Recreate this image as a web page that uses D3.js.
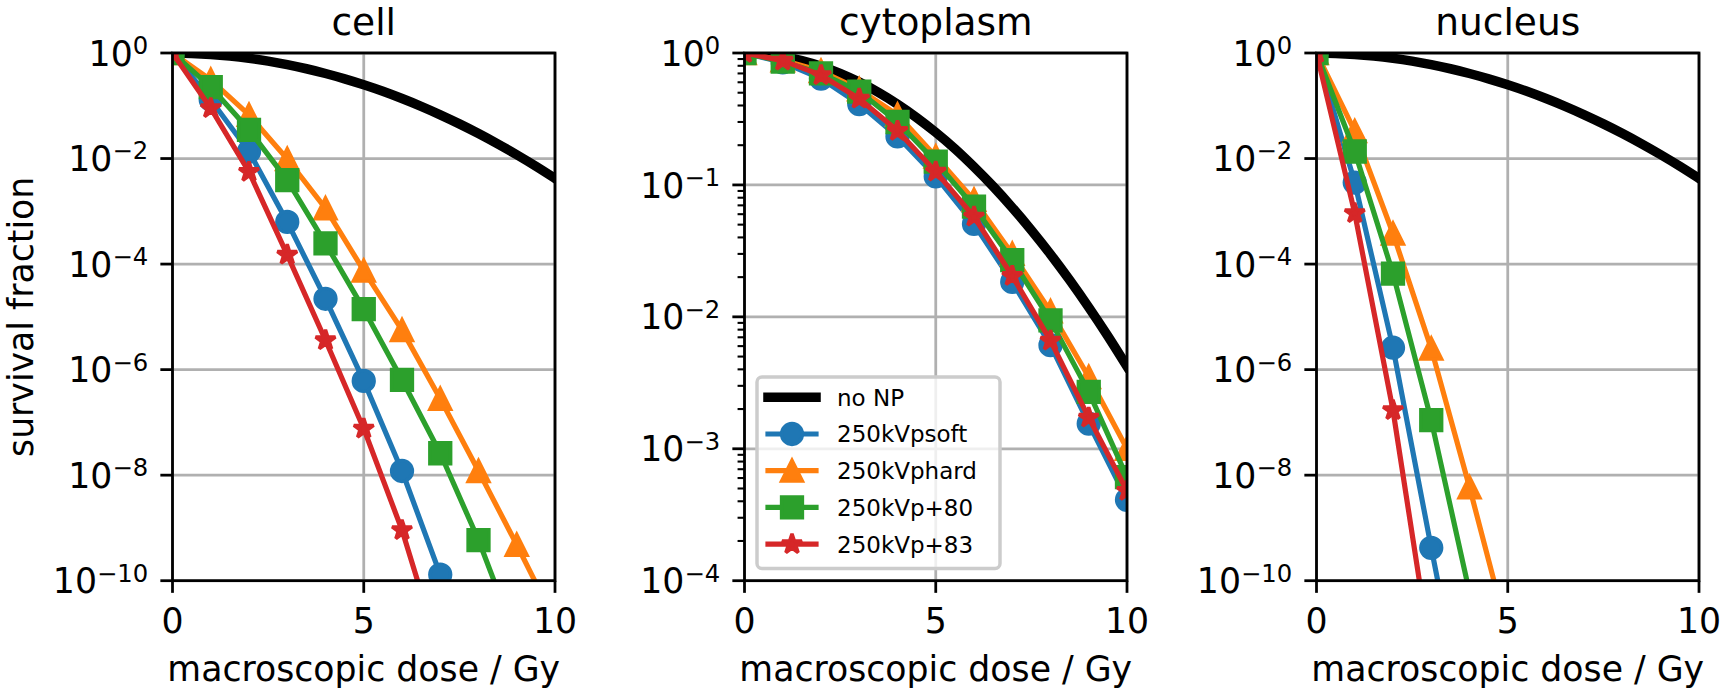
<!DOCTYPE html>
<html>
<head>
<meta charset="utf-8">
<script src="https://cdn.jsdelivr.net/npm/d3@7"></script>
<style>
  html, body { margin: 0; padding: 0; background: #ffffff; }
  svg { display: block; }
  text { font-family: "DejaVu Sans", sans-serif; fill: #000; }
</style>
</head>
<body>
<script>
// ---------------- DATA ----------------
const doses = [0, 1, 2, 3, 4, 5, 6, 7, 8, 9, 10];
const seriesNames = ["250kVpsoft", "250kVphard", "250kVp+80", "250kVp+83"];
const seriesColors = ["#1f77b4", "#ff7f0e", "#2ca02c", "#d62728"];
const seriesMarkers = ["circle", "triangle", "square", "star"];
const panelTitles = ["cell", "cytoplasm", "nucleus"];

// cell
const cellSoft = [1, 0.13, 0.0136, 6.3e-4, 2.2e-5, 6.1e-7, 1.2e-8, 1.3e-10, 1.2e-12, null, null];
const cellHard = [1, 0.31, 0.067, 0.0098, 1.14e-3, 7.5e-5, 5.6e-6, 2.8e-7, 1.2e-8, 4.8e-10, 1.7e-11];
const cell80   = [1, 0.226, 0.035, 0.0039, 2.46e-4, 1.4e-5, 6.4e-7, 2.6e-8, 5.9e-10, 7.4e-12, null];
const cell83   = [1, 0.09, 0.0056, 1.5e-4, 3.6e-6, 7.6e-8, 9.1e-10, 4e-12, null, null, null];
// cytoplasm
const cytoSoft = [1, 0.85, 0.64, 0.41, 0.233, 0.116, 0.0506, 0.0184, 6.1e-3, 1.55e-3, 4.1e-4];
const cytoHard = [1, 0.88, 0.73, 0.53, 0.34, 0.164, 0.077, 0.030, 0.011, 3.5e-3, 1.0e-3];
const cyto80   = [1, 0.86, 0.70, 0.51, 0.30, 0.150, 0.0684, 0.0269, 9.4e-3, 2.7e-3, 6.1e-4];
const cyto83   = [1, 0.875, 0.68, 0.45, 0.257, 0.126, 0.0574, 0.0204, 6.6e-3, 1.72e-3, 4.8e-4];
// nucleus
const nucSoft = [1, 3.5e-3, 2.6e-6, 4.2e-10, 9e-14, null, null, null, null, null, null];
const nucHard = [1, 0.033, 3.8e-4, 2.5e-6, 5.9e-9, 1e-11, null, null, null, null, null];
const nuc80   = [1, 0.0136, 6.6e-5, 1.1e-7, 6e-11, 1e-13, null, null, null, null, null];
const nuc83   = [1, 9.2e-4, 1.7e-7, 3.5e-12, null, null, null, null, null, null, null];

// reference curve without nanoparticles (same in all panels)
const noNPDose = [0, 0.5, 1, 1.5, 2, 2.5, 3, 3.5, 4, 4.5, 5, 5.5, 6, 6.5, 7, 7.5, 8, 8.5, 9, 9.5, 10];
const noNP = [1, 0.983, 0.941, 0.876, 0.794, 0.701, 0.602, 0.503, 0.409, 0.324, 0.250, 0.188, 0.137,
              0.0975, 0.0674, 0.0454, 0.0298, 0.0190, 0.0118, 0.00714, 0.00420];

const xTicks = [0, 5, 10];
const wideYTicks = [1, 1e-2, 1e-4, 1e-6, 1e-8, 1e-10];
const cytoYTicks = [1, 1e-1, 1e-2, 1e-3, 1e-4];

const panelSeries = [
  [cellSoft, cellHard, cell80, cell83],
  [cytoSoft, cytoHard, cyto80, cyto83],
  [nucSoft, nucHard, nuc80, nuc83]
];
const panelYDomain = [[1e-10, 1], [1e-4, 1], [1e-10, 1]];
const panelYTicks = [wideYTicks, cytoYTicks, wideYTicks];

// ---------------- LAYOUT ----------------
const W = 1720, H = 689;
const panelLefts = [172.5, 744.5, 1316.5];
const PW = 382.5;
const TOP = 53, BOTTOM = 580.7;
const PX = 3.47;              // px per point
const tickFont = 34.7, titleFont = 37.5, legendFont = 23;
const spineW = 0.8 * PX, majorLen = 3.5 * PX, minorLen = 2 * PX, minorW = 0.6 * PX;
const lineW = 1.5 * PX, blackW = 2.75 * PX;
const mHalf = 3 * PX;         // half of markersize 6pt
const mEdge = 1 * PX;

const svg = d3.select("body").append("svg")
  .attr("width", W).attr("height", H)
  .attr("viewBox", `0 0 ${W} ${H}`);
svg.append("rect").attr("width", W).attr("height", H).attr("fill", "#fff");

function supLabel(sel, v) {
  const e = Math.round(Math.log10(v));
  sel.text("10");
  sel.append("tspan")
    .attr("dy", -0.337 * tickFont)
    .attr("font-size", 0.7 * tickFont)
    .text(e < 0 ? "\u2212" + (-e) : String(e));
}

function markerPath(type) {
  const r = mHalf;
  if (type === "triangle") return `M0,${-r}L${-r},${r}L${r},${r}Z`;
  if (type === "square") return `M${-r},${-r}L${r},${-r}L${r},${r}L${-r},${r}Z`;
  if (type === "star") {
    const inner = r * 0.381966;
    let p = "";
    for (let i = 0; i < 10; i++) {
      const rad = i % 2 === 0 ? r : inner;
      const a = -Math.PI / 2 + i * Math.PI / 5;
      p += (i === 0 ? "M" : "L") + (rad * Math.cos(a)).toFixed(3) + "," + (rad * Math.sin(a)).toFixed(3);
    }
    return p + "Z";
  }
  return null;
}

function drawMarker(g, type, color, cx, cy) {
  if (type === "circle") {
    g.append("circle").attr("cx", cx).attr("cy", cy).attr("r", mHalf)
      .attr("fill", color).attr("stroke", color).attr("stroke-width", mEdge);
  } else {
    g.append("path").attr("d", markerPath(type))
      .attr("transform", `translate(${cx},${cy})`)
      .attr("fill", color).attr("stroke", color).attr("stroke-width", mEdge)
      .attr("stroke-linejoin", type === "star" ? "bevel" : "miter");
  }
}

panelTitles.forEach((title, pi) => {
  const L = panelLefts[pi];
  const x = d3.scaleLinear().domain([0, 10]).range([L, L + PW]);
  const y = d3.scaleLog().domain(panelYDomain[pi]).range([BOTTOM, TOP]);
  const g = svg.append("g");

  // grid
  xTicks.forEach(t => {
    g.append("line").attr("x1", x(t)).attr("x2", x(t)).attr("y1", TOP).attr("y2", BOTTOM)
      .attr("stroke", "#b0b0b0").attr("stroke-width", spineW);
  });
  panelYTicks[pi].forEach(t => {
    g.append("line").attr("x1", L).attr("x2", L + PW).attr("y1", y(t)).attr("y2", y(t))
      .attr("stroke", "#b0b0b0").attr("stroke-width", spineW);
  });

  // clip
  const clipId = "clip" + pi;
  svg.append("clipPath").attr("id", clipId)
    .append("rect").attr("x", L).attr("y", TOP).attr("width", PW).attr("height", BOTTOM - TOP);
  const plot = g.append("g").attr("clip-path", `url(#${clipId})`);

  // no NP curve
  const blackLine = d3.line().x(d => x(d[0])).y(d => y(d[1])).curve(d3.curveMonotoneX);
  plot.append("path")
    .attr("d", blackLine(noNPDose.map((d, i) => [d, noNP[i]])))
    .attr("fill", "none").attr("stroke", "#000").attr("stroke-width", blackW)
    .attr("stroke-linecap", "square").attr("stroke-linejoin", "round");

  // series
  const line = d3.line().defined(d => d[1] != null).x(d => x(d[0])).y(d => y(d[1]));
  panelSeries[pi].forEach((vals, si) => {
    const pts = doses.map((d, i) => [d, vals[i]]);
    const sg = plot.append("g");
    sg.append("path").attr("d", line(pts))
      .attr("fill", "none").attr("stroke", seriesColors[si]).attr("stroke-width", lineW)
      .attr("stroke-linecap", "square").attr("stroke-linejoin", "round");
    pts.filter(p => p[1] != null).forEach(p => {
      drawMarker(sg, seriesMarkers[si], seriesColors[si], x(p[0]), y(p[1]));
    });
  });

  // spines
  g.append("rect").attr("x", L).attr("y", TOP).attr("width", PW).attr("height", BOTTOM - TOP)
    .attr("fill", "none").attr("stroke", "#000").attr("stroke-width", spineW);

  // x ticks
  xTicks.forEach(t => {
    g.append("line").attr("x1", x(t)).attr("x2", x(t)).attr("y1", BOTTOM).attr("y2", BOTTOM + majorLen)
      .attr("stroke", "#000").attr("stroke-width", spineW);
    g.append("text").attr("x", x(t)).attr("y", 633.3).attr("text-anchor", "middle")
      .attr("font-size", tickFont).text(t);
  });

  // y minor ticks (only for cytoplasm, fewer decades)
  if (pi === 1) {
    const [lo, hi] = panelYDomain[pi];
    for (let e = Math.log10(lo); e < Math.log10(hi); e++) {
      for (let m = 2; m <= 9; m++) {
        const v = m * Math.pow(10, e);
        g.append("line").attr("x1", L - minorLen).attr("x2", L).attr("y1", y(v)).attr("y2", y(v))
          .attr("stroke", "#000").attr("stroke-width", minorW);
      }
    }
  }
  // y major ticks
  panelYTicks[pi].forEach(t => {
    g.append("line").attr("x1", L - majorLen).attr("x2", L).attr("y1", y(t)).attr("y2", y(t))
      .attr("stroke", "#000").attr("stroke-width", spineW);
    const tx = g.append("text").attr("x", L - majorLen - 3.5 * PX).attr("y", y(t) + 12.6)
      .attr("text-anchor", "end").attr("font-size", tickFont);
    supLabel(tx, t);
  });

  // title
  g.append("text").attr("x", L + PW / 2).attr("y", 35).attr("text-anchor", "middle")
    .attr("font-size", titleFont).text(title);
  // x label
  g.append("text").attr("x", L + PW / 2).attr("y", 680.5).attr("text-anchor", "middle")
    .attr("font-size", tickFont).text("macroscopic dose / Gy");
});

// y label
svg.append("text")
  .attr("transform", `translate(33,${(TOP + BOTTOM) / 2}) rotate(-90)`)
  .attr("text-anchor", "middle").attr("font-size", tickFont)
  .text("survival fraction");

// legend (cytoplasm panel, lower left)
const lg = svg.append("g");
lg.append("rect").attr("x", 757).attr("y", 377).attr("width", 243).attr("height", 191.5)
  .attr("rx", 5).attr("ry", 5)
  .attr("fill", "#ffffff").attr("fill-opacity", 0.8)
  .attr("stroke", "#cccccc").attr("stroke-width", 1 * PX);
const legendNames = ["no NP"].concat(seriesNames);
const legendColors = ["#000"].concat(seriesColors);
const legendMarkers = [null].concat(seriesMarkers);
legendNames.forEach((name, i) => {
  const cy = 397.3 + i * 36.7;
  lg.append("line").attr("x1", 768).attr("x2", 816).attr("y1", cy).attr("y2", cy)
    .attr("stroke", legendColors[i]).attr("stroke-width", i === 0 ? blackW : lineW)
    .attr("stroke-linecap", "square");
  if (legendMarkers[i]) drawMarker(lg, legendMarkers[i], legendColors[i], 792, cy);
  lg.append("text").attr("x", 837).attr("y", cy + 8.4).attr("font-size", legendFont).text(name);
});
</script>
</body>
</html>
